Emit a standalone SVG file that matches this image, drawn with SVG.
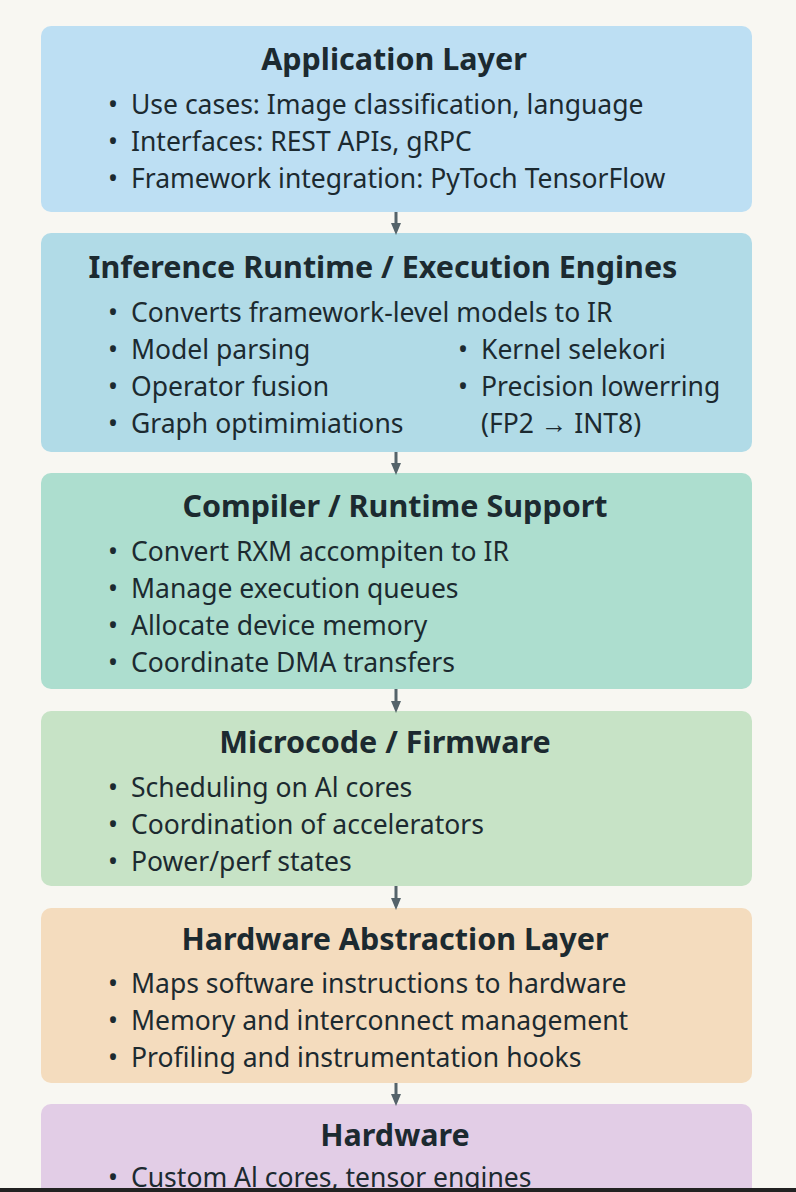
<svg xmlns="http://www.w3.org/2000/svg" width="796" height="1192" viewBox="0 0 796 1192">
<defs>
<style>
.t{font-family:"Noto Sans",sans-serif;font-weight:bold;font-size:30.5px;fill:#1c2a30;text-anchor:middle}
.b{font-family:"Noto Sans",sans-serif;font-size:26.5px;fill:#1c2a30}
.c{stroke:#55636a;stroke-width:3;fill:none}
</style>
<marker id="ah" markerWidth="12" markerHeight="10" refX="6" refY="5" orient="auto" markerUnits="userSpaceOnUse" viewBox="0 0 12 10"><path d="M0,0 L12,5 L0,10 Z" fill="#55636a"/></marker>
</defs>
<rect width="796" height="1192" fill="#f8f7f2"/>
<g id="app"><rect x="41" y="26" width="711" height="186" rx="10" fill="#bddff3"/>
<text class="t" x="394" y="70">Application Layer</text>
<text class="b" x="108" y="114">•<tspan x="131">Use cases: Image classification, language</tspan></text>
<text class="b" x="108" y="151">•<tspan x="131">Interfaces: REST APIs, gRPC</tspan></text>
<text class="b" x="108" y="188">•<tspan x="131">Framework integration: PyToch TensorFlow</tspan></text></g>
<g id="inf"><rect x="41" y="233" width="711" height="219" rx="10" fill="#b1dbe7"/>
<text class="t" x="383" y="278">Inference Runtime / Execution Engines</text>
<text class="b" x="108" y="322">•<tspan x="131">Converts framework-level models to IR</tspan></text>
<text class="b" x="108" y="359">•<tspan x="131">Model parsing</tspan></text>
<text class="b" x="108" y="396">•<tspan x="131">Operator fusion</tspan></text>
<text class="b" x="108" y="433">•<tspan x="131">Graph optimimiations</tspan></text>
<text class="b" x="458" y="359">•<tspan x="481">Kernel selekori</tspan></text>
<text class="b" x="458" y="396">•<tspan x="481">Precision lowerring</tspan></text>
<text class="b" x="481" y="433">(FP2 → INT8)</text></g>
<g id="comp"><rect x="41" y="473" width="711" height="216" rx="10" fill="#addecf"/>
<text class="t" x="395" y="517">Compiler / Runtime Support</text>
<text class="b" x="108" y="561">•<tspan x="131">Convert RXM accompiten to IR</tspan></text>
<text class="b" x="108" y="598">•<tspan x="131">Manage execution queues</tspan></text>
<text class="b" x="108" y="635">•<tspan x="131">Allocate device memory</tspan></text>
<text class="b" x="108" y="672">•<tspan x="131">Coordinate DMA transfers</tspan></text></g>
<g id="micro"><rect x="41" y="711" width="711" height="175" rx="10" fill="#c7e3c6"/>
<text class="t" x="385" y="753">Microcode / Firmware</text>
<text class="b" x="108" y="797">•<tspan x="131">Scheduling on Al cores</tspan></text>
<text class="b" x="108" y="834">•<tspan x="131">Coordination of accelerators</tspan></text>
<text class="b" x="108" y="871">•<tspan x="131">Power/perf states</tspan></text></g>
<g id="hal"><rect x="41" y="908" width="711" height="175" rx="10" fill="#f4dcbe"/>
<text class="t" x="395" y="950">Hardware Abstraction Layer</text>
<text class="b" x="108" y="993">•<tspan x="131">Maps software instructions to hardware</tspan></text>
<text class="b" x="108" y="1030">•<tspan x="131">Memory and interconnect management</tspan></text>
<text class="b" x="108" y="1067">•<tspan x="131">Profiling and instrumentation hooks</tspan></text></g>
<g id="hw"><rect x="41" y="1104" width="711" height="120" rx="10" fill="#e2cde6"/>
<text class="t" x="395" y="1146">Hardware</text>
<text class="b" x="108" y="1187">•<tspan x="131">Custom Al cores, tensor engines</tspan></text></g>
<g id="connectors">
<line class="c" x1="396" y1="212" x2="396" y2="229" marker-end="url(#ah)"/>
<line class="c" x1="396" y1="452" x2="396" y2="469" marker-end="url(#ah)"/>
<line class="c" x1="396" y1="689" x2="396" y2="707" marker-end="url(#ah)"/>
<line class="c" x1="396" y1="886" x2="396" y2="904" marker-end="url(#ah)"/>
<line class="c" x1="396" y1="1083" x2="396" y2="1100" marker-end="url(#ah)"/>
</g>
<rect x="0" y="1188" width="796" height="4" fill="#222"/>
</svg>
